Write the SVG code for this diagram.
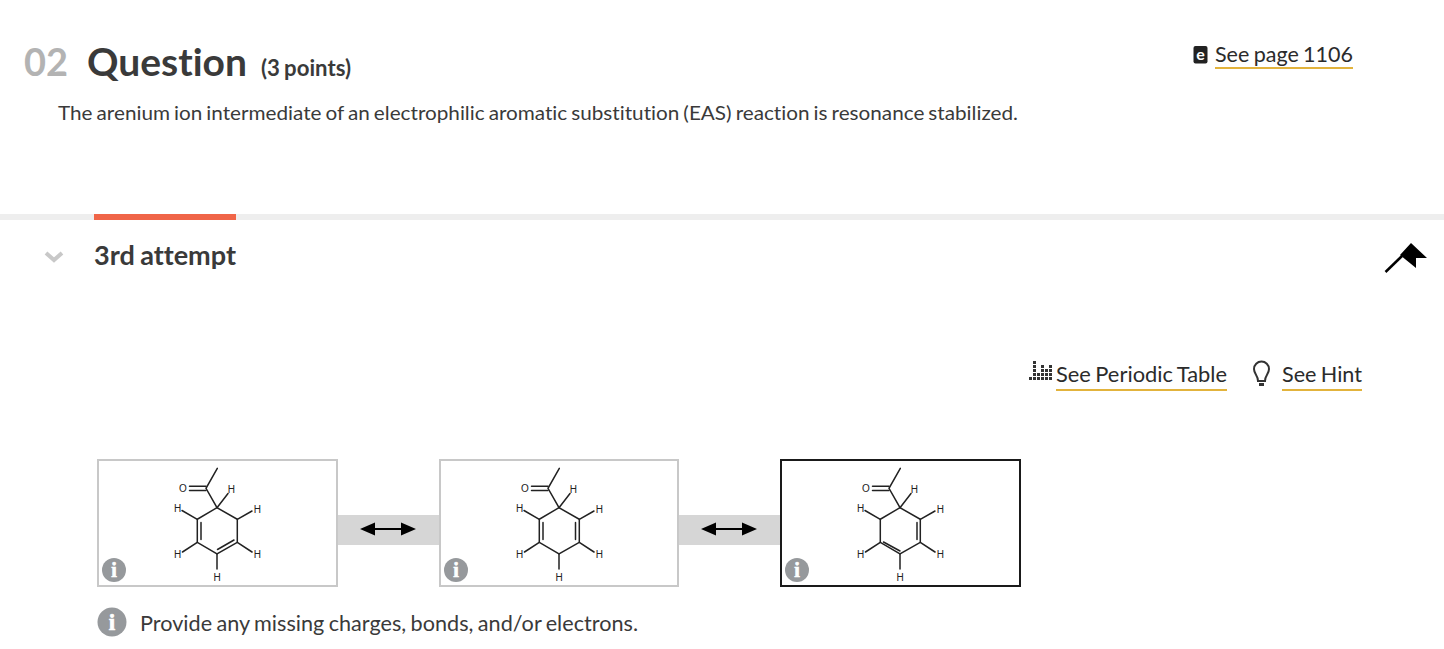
<svg xmlns="http://www.w3.org/2000/svg" width="1444" height="649" viewBox="0 0 1444 649">
<style>
text{font-family:Lato,"Open Sans","Liberation Sans",sans-serif;fill:#3a3a3a;font-variant-ligatures:none;word-spacing:-1.2px}
.link{font-size:22px;fill:#2b2b2b}
.ul{stroke:#e2b33c;stroke-width:2;fill:none}
.box{fill:#fff;stroke:#c8c8c8;stroke-width:2}
.bond{stroke:#222;stroke-width:1.5;fill:none;stroke-linecap:round}
.at{font-family:"Liberation Sans",Arial,sans-serif;font-size:10px;fill:#222;text-anchor:middle}
.band{fill:#d6d6d6}
.arr{stroke:#000;stroke-width:2;fill:none}
.ib{fill:#96999c}
.it{fill:#fff;stroke:#fff;stroke-width:.7;font-family:"Liberation Serif",serif;font-weight:700;text-anchor:middle}
</style>
<defs>
<g id="skeleton">
<path class="bond" d="M217.300 468.300L206 488.300L217 507.700L237.300 519.300V542.300L217 554L197.300 542.300V519.300L217 507.700"/>
<path class="bond" d="M206 486.200H189.500M206 490.400H189.500"/>
<path class="bond" d="M217 507.700L228 493.500M197.300 519.300L182 510.500M237.300 519.300L252 511M197.300 542.300L182.500 552M237.300 542.300L252 552M217 554V569"/>
<text class="at" x="183" y="491.800">O</text>
<text class="at" x="231.300" y="493">H</text>
<text class="at" x="177.700" y="512">H</text>
<text class="at" x="257.300" y="512.500">H</text>
<text class="at" x="177.700" y="558">H</text>
<text class="at" x="257.300" y="558">H</text>
<text class="at" x="217" y="581">H</text>
</g>
<g id="info">
<circle class="ib" cx="0" cy="0" r="12"/>
<text class="it" x="0" y="7" font-size="20">i</text>
</g>
<g id="bothways">
<path class="arr" d="M372 529H404"/>
<path d="M360 529L375 522.500V535.500Z M416 529L401 522.500V535.500Z" fill="#000"/>
</g>
</defs>

<g id="header">
<text x="24" y="76" font-size="38" font-weight="700" style="fill:#b3b3b3" textLength="44" lengthAdjust="spacingAndGlyphs">02</text>
<text x="87" y="76" font-size="38" font-weight="700" textLength="160" lengthAdjust="spacingAndGlyphs">Question</text>
<text x="261" y="76" font-size="22" font-weight="700" textLength="90" lengthAdjust="spacingAndGlyphs">(3 points)</text>
<text x="58" y="120" font-size="20" textLength="960" lengthAdjust="spacingAndGlyphs">The arenium ion intermediate of an electrophilic aromatic substitution (EAS) reaction is resonance stabilized.</text>
</g>

<g id="see-page">
<rect x="1193.500" y="46" width="14" height="17.500" rx="2" fill="#222"/>
<text x="1200.500" y="60" font-size="16" font-weight="700" text-anchor="middle" style="fill:#fff">e</text>
<text class="link" x="1215" y="62" textLength="138" lengthAdjust="spacingAndGlyphs">See page 1106</text>
<path class="ul" d="M1215 68H1353"/>
</g>

<g id="divider">
<rect x="0" y="214" width="1444" height="6" fill="#eee"/>
<rect x="94" y="214" width="142" height="6" fill="#f06548"/>
</g>

<g id="attempt">
<path d="M46 253L54 260L62 253" fill="none" stroke="#c8c8c8" stroke-width="4"/>
<text x="94" y="265" font-size="27" font-weight="700" textLength="142" lengthAdjust="spacingAndGlyphs">3rd attempt</text>
</g>

<g id="flag">
<path d="M1385.500 272L1402 256" stroke="#000" stroke-width="2.500" fill="none"/>
<path d="M1400 255L1411 243L1427 258L1416 258L1416 268Z" fill="#000"/>
</g>

<g id="periodic-link">
<g fill="#333">
<rect x="1033" y="361" width="3" height="3"/><rect x="1033" y="365" width="3" height="3"/>
<rect x="1033" y="369" width="3" height="3"/><rect x="1033" y="373" width="3" height="3"/><rect x="1033" y="377" width="3" height="3"/>
<rect x="1029" y="377" width="3" height="3"/><rect x="1037" y="373" width="3" height="3"/><rect x="1037" y="377" width="3" height="3"/>
<rect x="1041" y="365" width="3" height="3"/><rect x="1041" y="369" width="3" height="3"/><rect x="1041" y="373" width="3" height="3"/><rect x="1041" y="377" width="3" height="3"/>
<rect x="1045" y="369" width="3" height="3"/><rect x="1045" y="373" width="3" height="3"/><rect x="1045" y="377" width="3" height="3"/>
<rect x="1049" y="365" width="3" height="3"/><rect x="1049" y="369" width="3" height="3"/><rect x="1049" y="373" width="3" height="3"/><rect x="1049" y="377" width="3" height="3"/>
</g>
<text class="link" x="1056" y="382" textLength="171" lengthAdjust="spacingAndGlyphs">See Periodic Table</text>
<path class="ul" d="M1056 390H1227"/>
</g>

<g id="hint-link">
<path d="M1258 381C1258 375 1254 374 1254 369A7.500 7.500 0 0 1 1269 369C1269 374 1265 375 1265 381Z" fill="none" stroke="#333" stroke-width="2"/>
<path d="M1259 384.500H1264" stroke="#333" stroke-width="3"/>
<text class="link" x="1282" y="382" textLength="80" lengthAdjust="spacingAndGlyphs">See Hint</text>
<path class="ul" d="M1282 390H1362"/>
</g>

<g id="connectors">
<rect class="band" x="338" y="515" width="102" height="30"/>
<rect class="band" x="679" y="515" width="102" height="30"/>
<use href="#bothways"/>
<use href="#bothways" x="341"/>
</g>

<g id="structure-1">
<rect class="box" x="98" y="460" width="239" height="126"/>
<use href="#skeleton"/>
<path class="bond" d="M201 522.500V539.500M217.500 549.500L234 540"/>
<use href="#info" x="114" y="570"/>
</g>

<g id="structure-2">
<rect class="box" x="440" y="460" width="238" height="126"/>
<use href="#skeleton" x="342"/>
<path class="bond" d="M543 522.500V539.500M575.500 522.500V539.500"/>
<use href="#info" x="456" y="570"/>
</g>

<g id="structure-3">
<rect class="box" style="stroke:#1a1a1a" x="781" y="460" width="239" height="126"/>
<use href="#skeleton" x="683"/>
<path class="bond" d="M917 522.500V539.500M883.500 542L900 551"/>
<use href="#info" x="797" y="570"/>
</g>

<g id="note">
<circle class="ib" cx="112" cy="622" r="14.500"/>
<text class="it" x="112" y="630" font-size="23">i</text>
<text x="140" y="631" font-size="22" textLength="498" lengthAdjust="spacingAndGlyphs">Provide any missing charges, bonds, and/or electrons.</text>
</g>
</svg>
